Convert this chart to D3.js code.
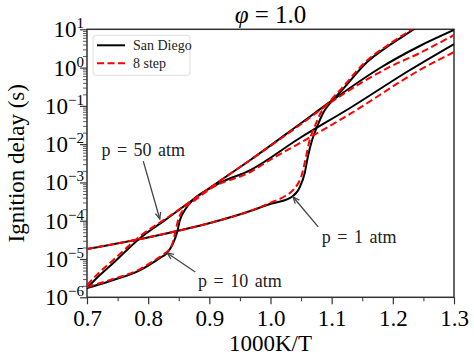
<!DOCTYPE html>
<html>
<head>
<meta charset="utf-8">
<script src="https://cdn.jsdelivr.net/npm/d3@7"></script>
<style>
  body { margin: 0; background: #fff; }
  svg text { font-family: "Liberation Serif", "DejaVu Serif", serif; fill: #000; }
</style>
</head>
<body>
<div id="chart"></div>
<script>
// [1000K/T, ignition delay in s]
const sanDiego1 = [
  [0.700, 1.83e-5], [0.803, 3.77e-5], [0.901, 8.73e-5], [0.967, 1.80e-4],
  [0.999, 2.74e-4], [1.032, 3.93e-4], [1.048, 7.60e-4], [1.056, 1.77e-3],
  [1.061, 4.62e-3], [1.068, 1.29e-2], [1.076, 2.81e-2], [1.086, 6.52e-2],
  [1.102, 0.143], [1.117, 0.260], [1.158, 1.40], [1.195, 3.89],
  [1.235, 10.2], [1.261, 19.7]
];
const eightStep1 = [
  [0.700, 1.83e-5], [0.803, 3.77e-5], [0.901, 8.73e-5], [0.967, 1.80e-4],
  [0.999, 2.91e-4], [1.024, 4.43e-4], [1.037, 6.35e-4], [1.052, 1.77e-3],
  [1.058, 4.62e-3], [1.064, 1.29e-2], [1.072, 2.81e-2], [1.082, 6.52e-2],
  [1.099, 0.143], [1.114, 0.260], [1.155, 1.40], [1.192, 3.89],
  [1.232, 10.2], [1.258, 19.7]
];
const sanDiego10 = [
  [0.700, 1.75e-6], [0.738, 2.67e-6], [0.787, 5.16e-6], [0.819, 1.06e-5],
  [0.831, 1.44e-5], [0.841, 2.62e-5], [0.847, 4.79e-5], [0.852, 1.05e-4],
  [0.860, 1.91e-4], [0.873, 3.48e-4], [0.896, 6.35e-4], [0.917, 9.68e-4],
  [0.967, 2.11e-3], [1.048, 1.45e-2], [1.130, 8.81e-2], [1.228, 0.865],
  [1.300, 4.13]
];
const eightStep10 = [
  [0.700, 1.86e-6], [0.738, 2.84e-6], [0.787, 5.48e-6], [0.816, 1.06e-5],
  [0.826, 1.36e-5], [0.839, 2.33e-5], [0.844, 4.79e-5], [0.849, 1.05e-4],
  [0.857, 1.91e-4], [0.877, 3.48e-4], [0.901, 6.75e-4], [0.967, 1.87e-3],
  [0.999, 3.86e-3], [1.048, 1.07e-2], [1.130, 6.14e-2], [1.244, 0.865],
  [1.300, 2.55]
];
const sanDiego50 = [
  [0.700, 1.75e-6], [0.721, 3.83e-6], [0.743, 7.87e-6], [0.787, 3.55e-5],
  [0.828, 1.05e-4], [0.868, 3.09e-4], [0.917, 1.09e-3], [0.967, 3.86e-3],
  [1.048, 3.36e-2], [1.102, 0.143], [1.179, 0.975], [1.244, 3.66],
  [1.300, 9.59]
];
const eightStep50 = [
  [0.700, 2.09e-6], [0.721, 4.59e-6], [0.743, 9.44e-6], [0.787, 4.00e-5],
  [0.828, 1.11e-4], [0.868, 3.09e-4], [0.917, 1.09e-3], [0.967, 3.86e-3],
  [1.048, 3.17e-2], [1.102, 0.134], [1.195, 1.04], [1.244, 2.40],
  [1.300, 7.10]
];

const xMajor = [0.7, 0.8, 0.9, 1.0, 1.1, 1.2, 1.3];
const xMinor = [0.75, 0.85, 0.95, 1.05, 1.15, 1.25];
const yExponents = [-6, -5, -4, -3, -2, -1, 0, 1];

// label text, label anchor [x, tau], arrow tail, arrow tip
const notes = [
  { text: "p = 50 atm", at: [0.792, 4.9e-3], from: [0.792, 3.6e-3], to: [0.819, 1.11e-4] },
  { text: "p = 1 atm", at: [1.145, 2.62e-5], from: [1.078, 6.9e-5], to: [1.037, 4.17e-4] },
  { text: "p = 10 atm", at: [0.950, 1.86e-6], from: [0.877, 4.6e-6], to: [0.831, 1.44e-5] }
];

const w = 474;
const h = 361;
const padLeft = 87;
const padRight = 454;
const padTop = 29.3;
const padBottom = 297.3;

const svg = d3
  .select("#chart")
  .append("svg")
  .attr("width", w)
  .attr("height", h);

const x = d3.scaleLinear().domain([0.7, 1.3]).range([padLeft, padRight]);
const y = d3.scaleLog().domain([1e-6, 10]).range([padBottom, padTop]);

svg
  .append("clipPath")
  .attr("id", "plot")
  .append("rect")
  .attr("x", padLeft)
  .attr("y", padTop)
  .attr("width", padRight - padLeft)
  .attr("height", padBottom - padTop);

// axes
const xAxis = svg
  .append("g")
  .attr("transform", `translate(0,${padBottom})`)
  .call(d3.axisBottom(x).tickValues(xMajor).tickSize(7).tickSizeOuter(0).tickPadding(5).tickFormat(d3.format(".1f")));
xAxis.select(".domain").remove();
xAxis.selectAll("text").style("font-size", "23px");
xAxis.selectAll("line").attr("stroke", "#333").attr("stroke-width", 1.2);

const xAxisMinor = svg
  .append("g")
  .attr("transform", `translate(0,${padBottom})`)
  .call(d3.axisBottom(x).tickValues(xMinor).tickSize(4).tickSizeOuter(0).tickFormat(""));
xAxisMinor.select(".domain").remove();
xAxisMinor.selectAll("line").attr("stroke", "#333").attr("stroke-width", 1);

const yAxis = svg
  .append("g")
  .attr("transform", `translate(${padLeft},0)`)
  .call(d3.axisLeft(y).tickValues(yExponents.map((e) => Math.pow(10, e))).tickSize(7).tickSizeOuter(0).tickFormat(""));
yAxis.select(".domain").remove();
yAxis.selectAll("line").attr("stroke", "#333").attr("stroke-width", 1.2);

const yMinor = y.ticks().filter((d) => Math.abs(Math.log10(d) - Math.round(Math.log10(d))) > 1e-6);
const yAxisMinor = svg
  .append("g")
  .attr("transform", `translate(${padLeft},0)`)
  .call(d3.axisLeft(y).tickValues(yMinor).tickSize(4).tickSizeOuter(0).tickFormat(""));
yAxisMinor.select(".domain").remove();
yAxisMinor.selectAll("line").attr("stroke", "#333").attr("stroke-width", 0.8);

const yLabels = svg
  .append("g")
  .selectAll("text")
  .data(yExponents)
  .enter()
  .append("text")
  .attr("x", padLeft - 3)
  .attr("y", (d) => y(Math.pow(10, d)) + 8)
  .attr("text-anchor", "end")
  .style("font-size", "23px")
  .text("10");
yLabels
  .append("tspan")
  .attr("dy", -9)
  .style("font-size", "15px")
  .text((d) => (d < 0 ? "\u2212" + Math.abs(d) : d));

// frame
svg
  .append("rect")
  .attr("x", padLeft)
  .attr("y", padTop)
  .attr("width", padRight - padLeft)
  .attr("height", padBottom - padTop)
  .attr("fill", "none")
  .attr("stroke", "#333")
  .attr("stroke-width", 1.5);

// curves
const line = d3
  .line()
  .x((d) => x(d[0]))
  .y((d) => y(d[1]))
  .curve(d3.curveMonotoneX);

const curves = svg.append("g").attr("clip-path", "url(#plot)");
[sanDiego1, sanDiego10, sanDiego50].forEach((data) => {
  curves
    .append("path")
    .attr("d", line(data))
    .attr("fill", "none")
    .attr("stroke", "#000")
    .attr("stroke-width", 2);
});
[eightStep1, eightStep10, eightStep50].forEach((data) => {
  curves
    .append("path")
    .attr("d", line(data))
    .attr("fill", "none")
    .attr("stroke", "#ff0000")
    .attr("stroke-width", 2)
    .attr("stroke-dasharray", "7,3.5");
});

// annotations
notes.forEach((n) => {
  const x1 = x(n.from[0]);
  const y1 = y(n.from[1]);
  const x2 = x(n.to[0]);
  const y2 = y(n.to[1]);
  const a = Math.atan2(y2 - y1, x2 - x1);
  const g = svg.append("g").attr("stroke", "#444").attr("stroke-width", 1.3).attr("fill", "none");
  g.append("line").attr("x1", x1).attr("y1", y1).attr("x2", x2).attr("y2", y2);
  g.append("path").attr(
    "d",
    `M${x2 - 7 * Math.cos(a - 0.4)},${y2 - 7 * Math.sin(a - 0.4)}L${x2},${y2}L${x2 - 7 * Math.cos(a + 0.4)},${y2 - 7 * Math.sin(a + 0.4)}`
  );
  svg
    .append("text")
    .attr("x", x(n.at[0]))
    .attr("y", y(n.at[1]))
    .attr("text-anchor", "middle")
    .style("font-size", "18px")
    .style("word-spacing", "2px")
    .style("fill", "#222")
    .text(n.text);
});

// legend
const legend = svg.append("g").attr("transform", `translate(${padLeft + 6},${padTop + 6})`);
legend
  .append("rect")
  .attr("width", 97)
  .attr("height", 40)
  .attr("rx", 3)
  .attr("fill", "#fff")
  .attr("stroke", "#ddd")
  .attr("stroke-width", 1);
const legendItems = [
  { name: "San Diego", color: "#000", dash: null },
  { name: "8 step", color: "#ff0000", dash: "7,3.5" }
];
legendItems.forEach((item, i) => {
  legend
    .append("line")
    .attr("x1", 4)
    .attr("x2", 32)
    .attr("y1", 10 + i * 18)
    .attr("y2", 10 + i * 18)
    .attr("stroke", item.color)
    .attr("stroke-width", 2)
    .attr("stroke-dasharray", item.dash);
  legend
    .append("text")
    .attr("x", 40)
    .attr("y", 15 + i * 18)
    .style("font-size", "14px")
    .style("fill", "#222")
    .text(item.name);
});

// titles
svg
  .append("text")
  .attr("x", (padLeft + padRight) / 2)
  .attr("y", 23)
  .attr("text-anchor", "middle")
  .style("font-size", "25px")
  .html('<tspan font-style="italic">\u03c6</tspan> = 1.0');

svg
  .append("text")
  .attr("x", (padLeft + padRight) / 2)
  .attr("y", 351)
  .attr("text-anchor", "middle")
  .style("font-size", "23px")
  .text("1000K/T");

svg
  .append("text")
  .attr("transform", `translate(24,${(padTop + padBottom) / 2}) rotate(-90)`)
  .attr("text-anchor", "middle")
  .style("font-size", "23px")
  .text("Ignition delay (s)");
</script>
</body>
</html>
